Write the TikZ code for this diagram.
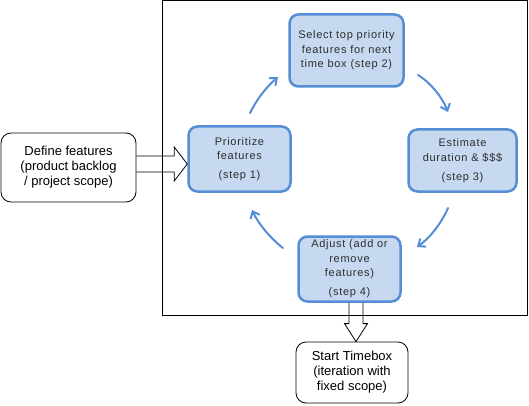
\documentclass[tikz,border=0pt]{standalone}
\usepackage{fontspec}
\setmainfont{Liberation Sans}
\newfontfamily\boxfont[LetterSpace=6.5]{Liberation Sans}
\usetikzlibrary{calc,arrows.meta}
\definecolor{bluefill}{RGB}{198,217,240}
\definecolor{blueline}{RGB}{85,142,213}
\definecolor{txtgray}{RGB}{45,45,45}
\begin{document}
\begin{tikzpicture}[x=1pt,y=-1pt,
  stepbox/.style={draw=blueline, line width=2.5pt, fill=bluefill, rounded corners=9pt,
    align=center, font=\boxfont\fontsize{11}{14.5}\selectfont, text=txtgray, inner sep=0pt},
  plainbox/.style={draw=black, line width=0.8pt, fill=white, rounded corners=10pt,
    align=center, font=\fontsize{13}{15}\selectfont, inner sep=0pt},
  cyc/.style={draw=blueline, line width=2pt, line cap=round,
    -{Straight Barb[length=6pt,width=10pt,line width=2pt]}},
  blockarrow/.style={draw=black, line width=0.8pt, line join=miter}]
\useasboundingbox (0,0) rectangle (529,406);
% frame
\draw[line width=0.8pt] (162.5,0.5) rectangle (527.5,315);
% boxes
\node[plainbox, minimum width=135pt, minimum height=69pt] (define) at (68.5,167.5)
  {Define features\\(product backlog\\/ project scope)};
\node[stepbox, minimum width=102pt, minimum height=65pt] (prio) at (239.5,159)
  {Prioritize\\features\\[4.5pt](step 1)};
\node[stepbox, minimum width=114pt, minimum height=72pt] (select) at (346.5,50.5)
  {Select top priority\\features for next\\time box (step 2)};
\node[stepbox, minimum width=108pt, minimum height=62pt] (estimate) at (462.5,160.5)
  {Estimate\\duration \& \$\$\$\\[4.5pt](step 3)};
\node[stepbox, minimum width=102pt, minimum height=65pt] (adjust) at (349.5,269)
  {Adjust (add or\\remove\\features)\\[4.5pt](step 4)};
\node[plainbox, minimum width=112pt, minimum height=61pt] (start) at (352,372.5)
  {Start Timebox\\(iteration with\\fixed scope)};
% cycle arrows
\coordinate (a1s) at (250,113); \coordinate (a1e) at (278,77);
\coordinate (a2s) at (418,75);  \coordinate (a2e) at (448,112);
\coordinate (a3s) at (448,208); \coordinate (a3e) at (417,247);
\coordinate (a4s) at (283,248); \coordinate (a4e) at (252,210);
\draw[cyc] (a1s) .. controls (256,101) and (265,88) .. (a1e);
\draw[cyc] (a2s) .. controls (431,83) and (442,97) .. (a2e);
\draw[cyc] (a3s) .. controls (442,222) and (431,237) .. (a3e);
\draw[cyc] (a4s) .. controls (270,238) and (258,223) .. (a4e);
% block arrow define -> prio
\coordinate (da) at ($(define.east)+(0,-3.5)$);
\coordinate (pt) at (prio.west |- da);
\draw[blockarrow] ($(da)+(0,-8)$) -- ($(pt)+(-13,-8)$) -- ($(pt)+(-13,-17)$) -- (pt)
  -- ($(pt)+(-13,17)$) -- ($(pt)+(-13,8)$) -- ($(da)+(0,8)$);
% block arrow adjust -> start
\coordinate (dt) at ($(start.north)+(4,0)$);
\coordinate (ab) at (adjust.south -| dt);
\draw[blockarrow] ($(ab)+(-7,0)$) -- ($(dt)+(-7,-18)$) -- ($(dt)+(-11.5,-18)$) -- (dt)
  -- ($(dt)+(11.5,-18)$) -- ($(dt)+(7,-18)$) -- ($(ab)+(7,0)$);
\end{tikzpicture}
\end{document}
